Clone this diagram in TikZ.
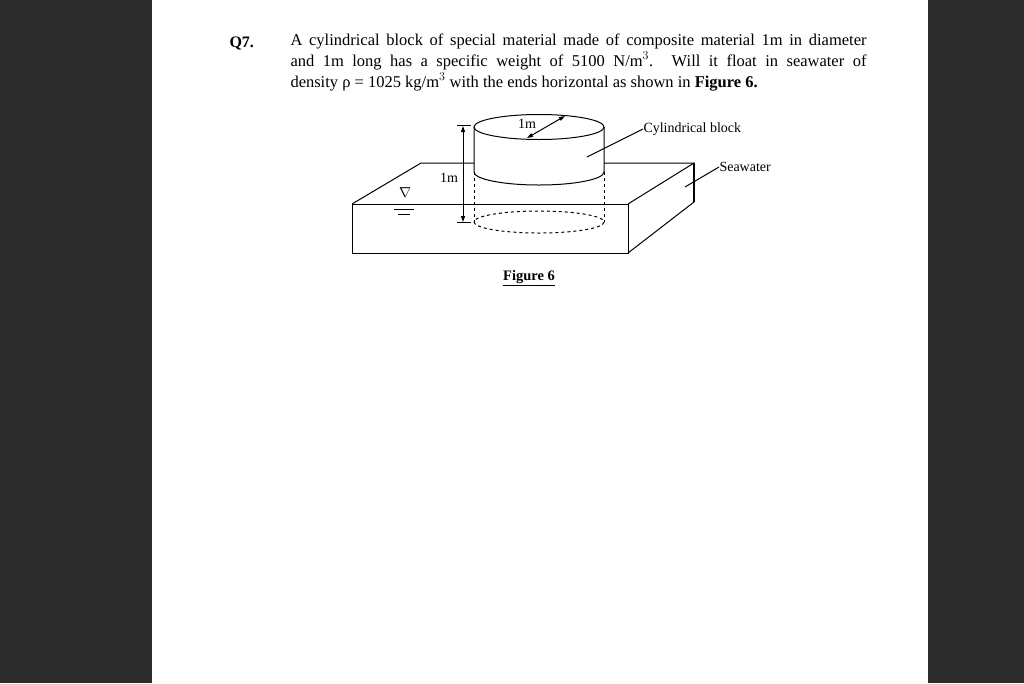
\documentclass[tikz,border=0pt]{standalone}
\usepackage{fontspec}
\setmainfont{Liberation Serif}
\usetikzlibrary{arrows.meta}
\begin{document}
\begin{tikzpicture}[x=1pt,y=-1pt,line width=1pt,
  lbl/.style={inner sep=0pt,font=\fontsize{14}{15}\selectfont},
  dim/.style={-{Triangle[length=6pt,width=4pt]}}]
\useasboundingbox (0,0) rectangle (1024,683);
\fill[black!83] (0,0) rectangle (152,683);
\fill[black!83] (928,0) rectangle (1024,683);
\node[anchor=base west,inner sep=0pt,font=\fontsize{16}{21}\selectfont\bfseries] (q) at (229,47) {Q7.};
\node[anchor=north west,inner sep=0pt,font=\fontsize{16.5}{21}\selectfont] (txt) at (290,33) {\parbox{576pt}{A cylindrical block of special material made of composite material 1m in diameter\linebreak and 1m long has a specific weight of 5100 N/m$^3$. Will it float in seawater of\linebreak density ρ = 1025 kg/m$^3$ with the ends horizontal as shown in \textbf{Figure 6.}}};
% tank
\draw (352,204) rectangle (628,253);
\draw (352,204) -- (421,163) -- (474,163);
\draw (604,163) -- (694,163) -- (694,202) -- (628,253);
\draw (628,204) -- (694,163);
\draw[line width=1.8pt] (694,163) -- (694,202);
% cylinder
\fill[white] (474,127) rectangle (604,172);
\fill[white] (539,172) ellipse (65 and 13);
\draw (539,127) ellipse (65 and 12.5);
\draw (474,127) -- (474,172) arc[start angle=180,end angle=0,x radius=65,y radius=13] -- (604,127);
\draw[dashed] (474,172) -- (474,222);
\draw[dashed] (604,172) -- (604,222);
\draw[dashed] (539,222) ellipse (65 and 11);
% dims
\coordinate (ht) at (463,126); \coordinate (hb) at (463,222);
\draw (457,125) -- (471,125); \draw (457,222) -- (471,222);
\draw[dim] (463,170) -- (ht); \draw[dim] (463,170) -- (hb);
\node[lbl] (h) at (449,178) {1m};
\coordinate (d1) at (527,138); \coordinate (d2) at (565,116);
\draw[{Triangle[length=6pt,width=4pt]}-{Triangle[length=6pt,width=4pt]}] (d1) -- (d2);
\node[lbl] (d) at (527,124) {1m};
% water symbol
\node[inner sep=0pt,font=\fontsize{14}{15}\selectfont] (w) at (405,193) {$\nabla$};
\draw (394,209) -- (414,209); \draw (398,214) -- (410,214);
% leaders
\node[lbl,anchor=west] (cb) at (643,129) {Cylindrical block};
\draw (587,157) -- (cb.west);
\node[lbl,anchor=west] (sw) at (719,167) {Seawater};
\draw (685,187) -- (sw.west);
\node[inner sep=0pt,font=\fontsize{14.5}{16}\selectfont\bfseries] (f) at (529,278) {\underline{Figure 6}};
\end{tikzpicture}
\end{document}
